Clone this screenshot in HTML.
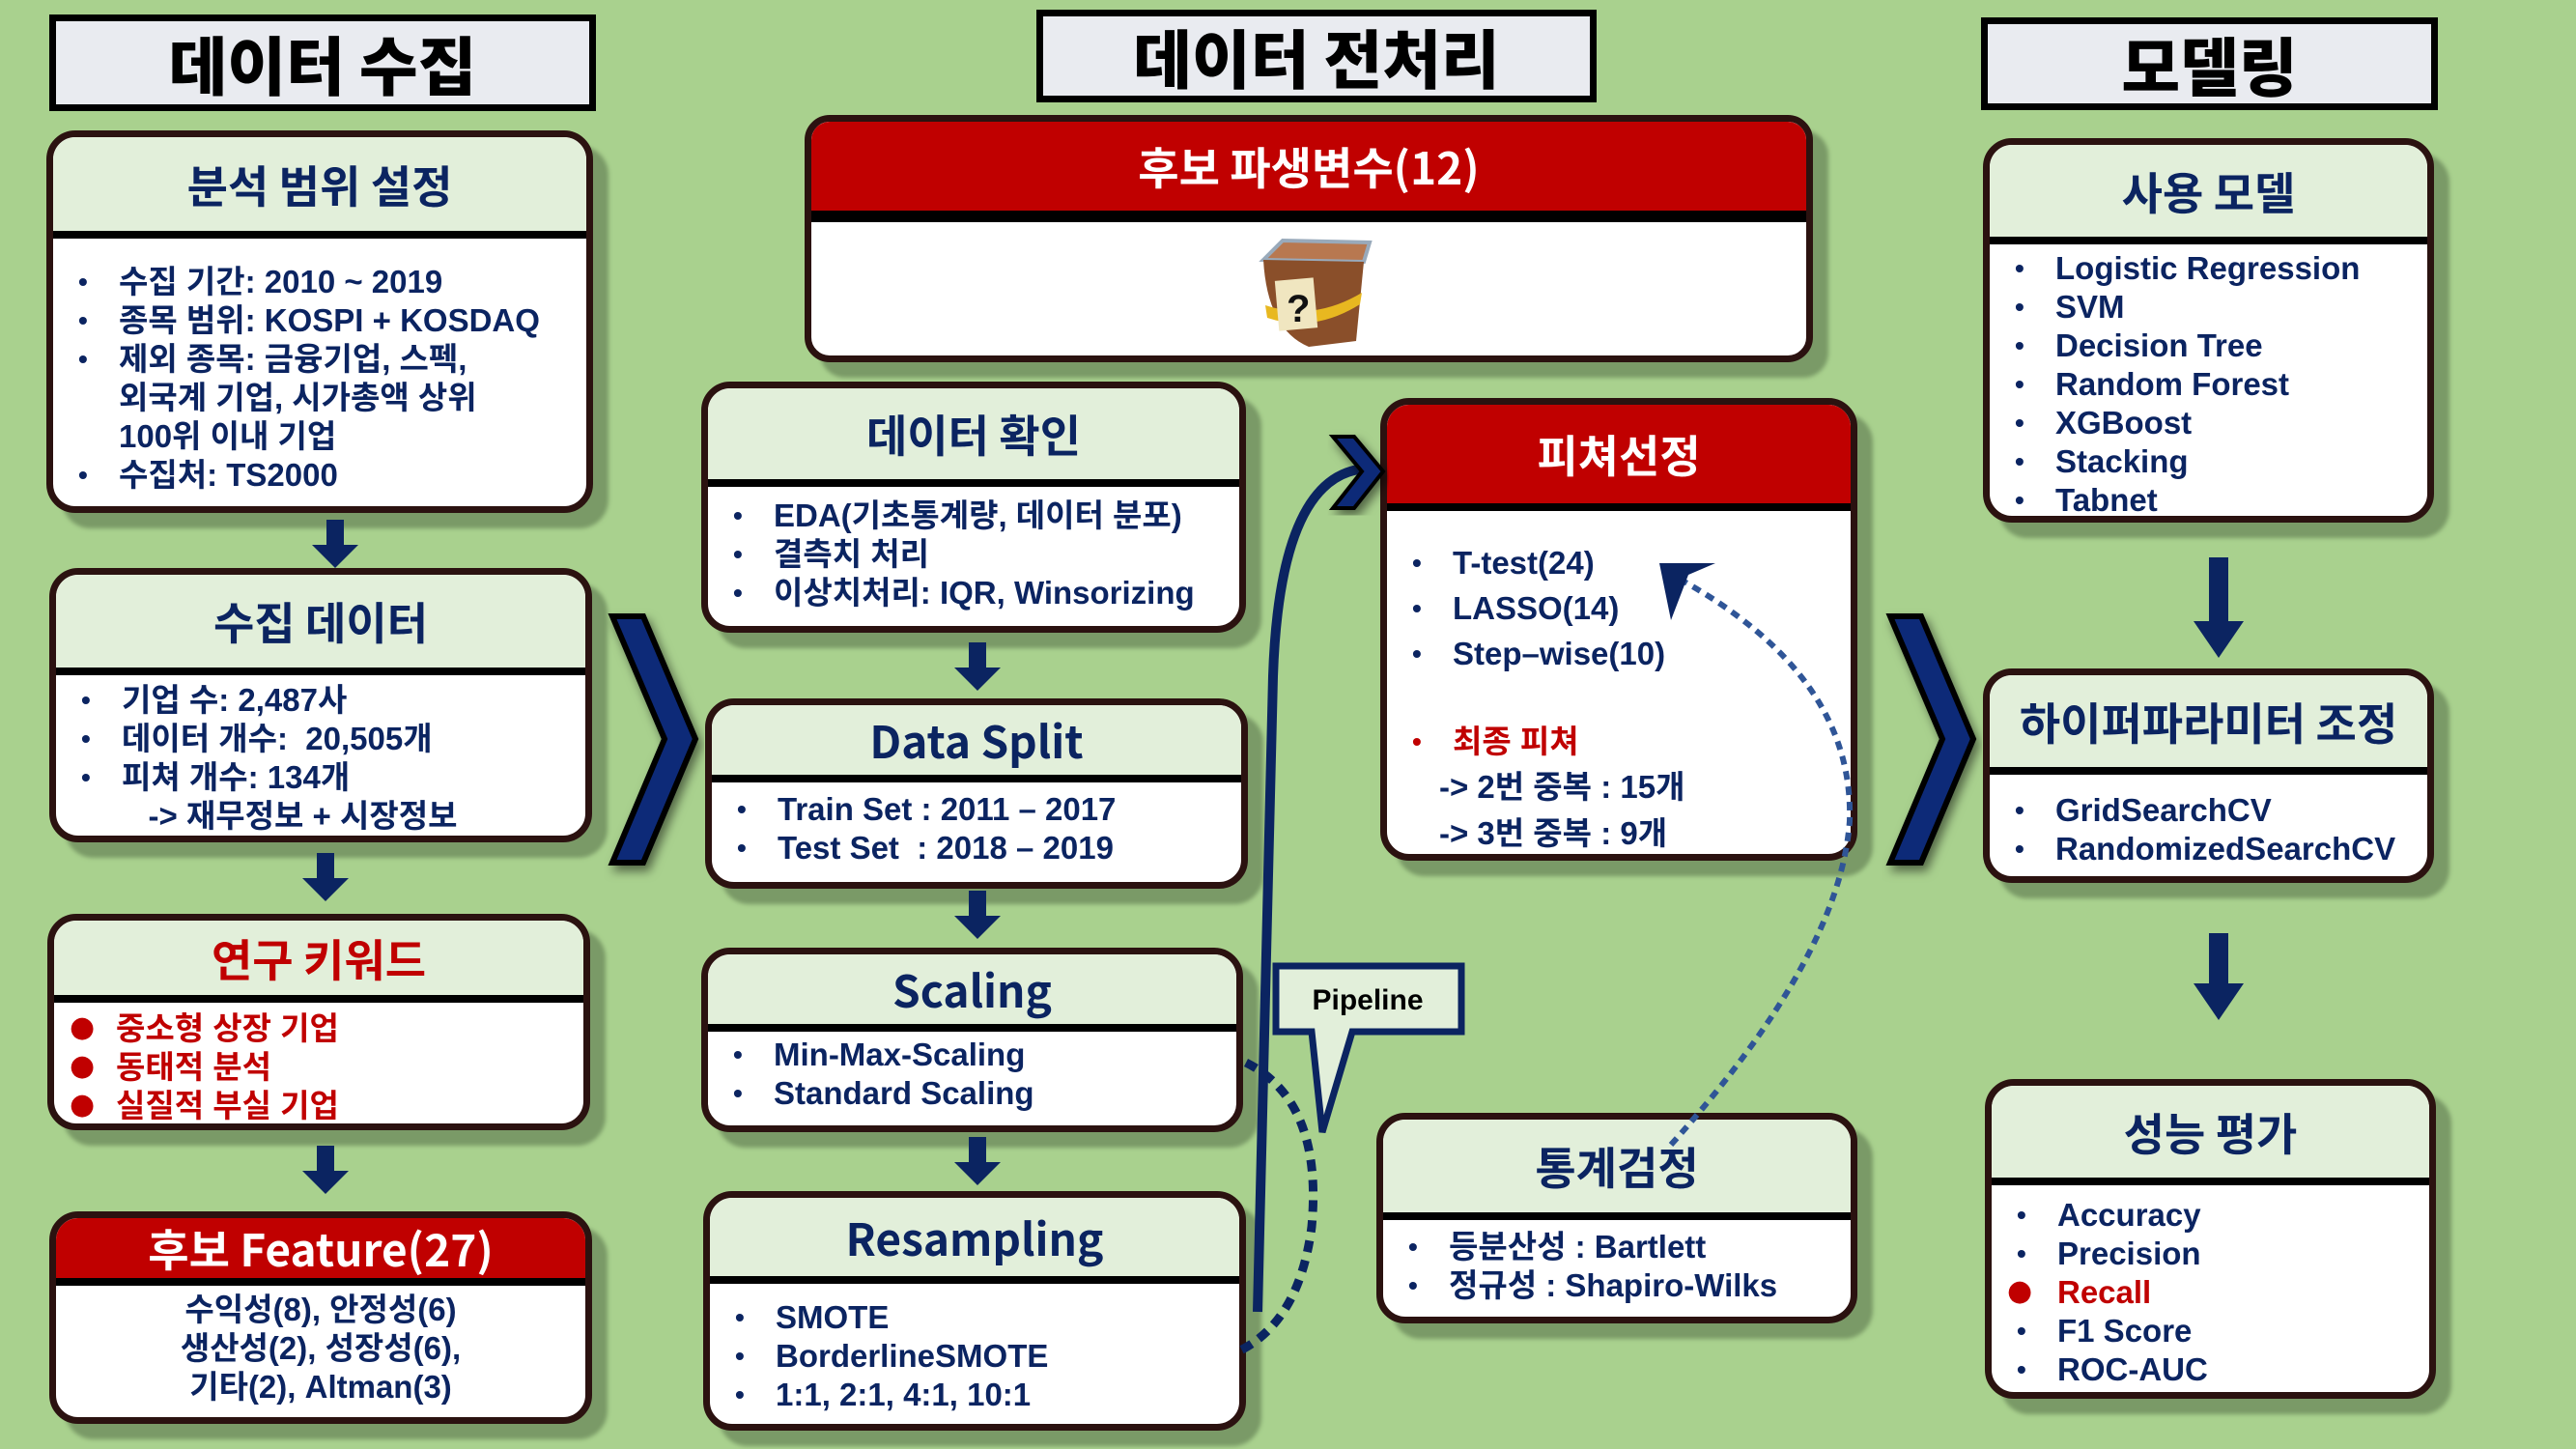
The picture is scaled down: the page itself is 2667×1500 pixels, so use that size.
<!DOCTYPE html>
<html><head><meta charset="utf-8">
<style>
*{margin:0;padding:0;box-sizing:border-box}
body{width:2667px;height:1500px;background:#a9d18e;position:relative;overflow:hidden;font-family:"Liberation Sans","Noto Sans CJK KR",sans-serif;font-weight:bold;color:#0b2461}
.hd{position:absolute;background:#e9ebf0;border:7px solid #000;display:flex;align-items:center;justify-content:center;font-size:66px;color:#000;font-family:"Noto Sans CJK KR",sans-serif;font-weight:900}
.card{position:absolute;background:#fff;border:7px solid #2b1210;border-radius:30px;box-shadow:16px 16px 4px #7a9a67;overflow:hidden}
.card .t{background:#e2efda;border-bottom:8px solid #000;display:flex;align-items:center;justify-content:center;font-size:46px;font-family:"Noto Sans CJK KR",sans-serif;font-weight:bold;color:#0b2461}
.card .t.red{background:#c00000;color:#fff}
.card ul{list-style:none;position:absolute;left:0;right:0}
.card li{position:relative;font-size:33px;line-height:40px;padding-left:68px;white-space:nowrap}
.card li:before{content:"•";position:absolute;left:26px;font-size:28px}
.card li.nb:before{content:""}
.red{color:#c00000}
.card li.dot:before{content:"●";color:#c00000;font-family:"DejaVu Sans",sans-serif;font-size:30px;left:16px;top:-1px}
</style></head><body>

<div class="hd" style="left:51px;top:15px;width:566px;height:100px">데이터 수집</div>
<div class="hd" style="left:1073px;top:10px;width:580px;height:96px">데이터 전처리</div>
<div class="hd" style="left:2051px;top:18px;width:473px;height:96px">모델링</div>

<!-- left column -->
<div class="card" style="left:48px;top:135px;width:566px;height:396px">
 <div class="t" style="height:105px">분석 범위 설정</div>
 <ul style="top:130px"><li>수집 기간: 2010 ~ 2019</li><li>종목 범위: KOSPI + KOSDAQ</li><li>제외 종목: 금융기업, 스펙,</li><li class="nb">외국계 기업, 시가총액 상위</li><li class="nb">100위 이내 기업</li><li>수집처: TS2000</li></ul>
</div>
<div class="card" style="left:51px;top:588px;width:562px;height:284px">
 <div class="t" style="height:104px">수집 데이터</div>
 <ul style="top:110px"><li>기업 수: 2,487사</li><li>데이터 개수:&nbsp; 20,505개</li><li>피쳐 개수: 134개</li><li class="nb">&nbsp;&nbsp;&nbsp;-&gt; 재무정보 + 시장정보</li></ul>
</div>
<div class="card" style="left:49px;top:946px;width:562px;height:224px">
 <div class="t" style="height:85px;color:#c00000">연구 키워드</div>
 <ul style="top:92px" class="red"><li class="dot" style="color:#c00000;padding-left:64px">중소형 상장 기업</li><li class="dot" style="color:#c00000;padding-left:64px">동태적 분석</li><li class="dot" style="color:#c00000;padding-left:64px">실질적 부실 기업</li></ul>
</div>
<div class="card" style="left:51px;top:1254px;width:562px;height:220px">
 <div class="t red" style="height:70px">후보 Feature(27)</div>
 <div style="text-align:center;font-size:33px;line-height:40px;margin-top:5px">수익성(8), 안정성(6)<br>생산성(2), 성장성(6),<br>기타(2), Altman(3)</div>
</div>

<!-- middle -->
<div class="card" style="left:833px;top:119px;width:1044px;height:256px;border-radius:26px">
 <div class="t red" style="height:104px;border-bottom-width:12px">후보 파생변수(12)</div>
 <svg style="position:absolute;left:460px;top:115px" width="125" height="125" viewBox="0 0 125 125">
  <path d="M8 28 L28 8 L118 10 L112 30 Z" fill="#b87850" stroke="#9ab" stroke-width="4"/>
  <path d="M8 28 L112 30 L104 112 L55 118 Q12 100 8 28Z" fill="#8a4f2a"/>
  <path d="M10 75 Q60 92 110 62 L108 74 Q60 104 12 88Z" fill="#e8b820"/>
  <rect x="22" y="48" width="40" height="52" fill="#f0e6c0" transform="rotate(-5 42 74)"/>
  <text x="32" y="92" font-size="40" font-family="Liberation Sans" font-weight="bold" fill="#111">?</text>
 </svg>
</div>
<div class="card" style="left:726px;top:395px;width:564px;height:260px">
 <div class="t" style="height:102px">데이터 확인</div>
 <ul style="top:112px"><li>EDA(기초통계량, 데이터 분포)</li><li>결측치 처리</li><li>이상치처리: IQR, Winsorizing</li></ul>
</div>
<div class="card" style="left:730px;top:723px;width:562px;height:197px">
 <div class="t" style="height:80px">Data Split</div>
 <ul style="top:88px"><li>Train Set : 2011 – 2017</li><li>Test Set &nbsp;: 2018 – 2019</li></ul>
</div>
<div class="card" style="left:726px;top:981px;width:561px;height:191px">
 <div class="t" style="height:80px">Scaling</div>
 <ul style="top:84px"><li>Min-Max-Scaling</li><li>Standard Scaling</li></ul>
</div>
<div class="card" style="left:728px;top:1233px;width:562px;height:248px">
 <div class="t" style="height:89px">Resampling</div>
 <ul style="top:104px"><li>SMOTE</li><li>BorderlineSMOTE</li><li>1:1, 2:1, 4:1, 10:1</li></ul>
</div>

<div class="card" style="left:1429px;top:412px;width:494px;height:479px">
 <div class="t red" style="height:110px">피쳐선정</div>
 <ul style="top:140px"><li style="line-height:47px">T-test(24)</li><li style="line-height:47px">LASSO(14)</li><li style="line-height:47px">Step–wise(10)</li>
 <li style="line-height:47px;margin-top:44px;color:#c00000">최종 피쳐</li>
 <li class="nb" style="line-height:48px;padding-left:54px">-&gt; 2번 중복 : 15개</li><li class="nb" style="line-height:48px;padding-left:54px">-&gt; 3번 중복 : 9개</li></ul>
</div>
<div class="card" style="left:1425px;top:1152px;width:498px;height:218px">
 <div class="t" style="height:104px">통계검정</div>
 <ul style="top:112px"><li>등분산성 : Bartlett</li><li>정규성 : Shapiro-Wilks</li></ul>
</div>

<!-- right -->
<div class="card" style="left:2053px;top:143px;width:467px;height:398px">
 <div class="t" style="height:103px">사용 모델</div>
 <ul style="top:108px"><li>Logistic Regression</li><li>SVM</li><li>Decision Tree</li><li>Random Forest</li><li>XGBoost</li><li>Stacking</li><li>Tabnet</li></ul>
</div>
<div class="card" style="left:2053px;top:692px;width:467px;height:222px">
 <div class="t" style="height:103px">하이퍼파라미터 조정</div>
 <ul style="top:120px"><li>GridSearchCV</li><li>RandomizedSearchCV</li></ul>
</div>
<div class="card" style="left:2055px;top:1117px;width:467px;height:331px">
 <div class="t" style="height:103px">성능 평가</div>
 <ul style="top:114px"><li>Accuracy</li><li>Precision</li><li class="dot" style="color:#c00000">Recall</li><li>F1 Score</li><li>ROC-AUC</li></ul>
</div>

<!-- overlay -->
<svg style="position:absolute;left:0;top:0" width="2667" height="1500" viewBox="0 0 2667 1500">
 <defs><filter id="sh"><feDropShadow dx="4" dy="6" stdDeviation="5" flood-color="#000" flood-opacity="0.5"/></filter></defs>
 <g fill="#0b2461">
  <g transform="translate(347,538)"><rect x="-9" y="0" width="18" height="28"/><polygon points="-24,26 24,26 0,50"/></g>
  <g transform="translate(337,883)"><rect x="-9" y="0" width="18" height="28"/><polygon points="-24,26 24,26 0,50"/></g>
  <g transform="translate(337,1186)"><rect x="-9" y="0" width="18" height="28"/><polygon points="-24,26 24,26 0,50"/></g>
  <g transform="translate(1012,665)"><rect x="-9" y="0" width="18" height="28"/><polygon points="-24,26 24,26 0,50"/></g>
  <g transform="translate(1012,922)"><rect x="-9" y="0" width="18" height="28"/><polygon points="-24,26 24,26 0,50"/></g>
  <g transform="translate(1012,1177)"><rect x="-9" y="0" width="18" height="28"/><polygon points="-24,26 24,26 0,50"/></g>
  <g transform="translate(2297,577)"><rect x="-10" y="0" width="20" height="70"/><polygon points="-26,66 26,66 0,104"/></g>
  <g transform="translate(2297,966)"><rect x="-10" y="0" width="20" height="56"/><polygon points="-26,52 26,52 0,90"/></g>
 </g>
 <polygon filter="url(#sh)" points="634,638 666,638 720,765 666,893 634,893 688,765" fill="#102a78" stroke="#000" stroke-width="6"/>
 <polygon filter="url(#sh)" points="1957,638 1989,638 2043,765 1989,893 1957,893 2011,765" fill="#102a78" stroke="#000" stroke-width="6"/>
 <path d="M1290,1100 Q1370,1140 1358,1270 Q1345,1370 1280,1400" fill="none" stroke="#0b2461" stroke-width="9" stroke-dasharray="12,9"/>
 <path d="M1302,1358 L1318,700 Q1325,490 1415,485" fill="none" stroke="#0b2461" stroke-width="10"/>
 <polygon filter="url(#sh)" points="1380,452 1402,452 1432,488 1402,526 1380,526 1410,488" fill="#102a78" stroke="#000" stroke-width="4"/>
 <path d="M1321,1000 L1513,1000 L1513,1068 L1400,1068 L1369,1172 L1358,1068 L1321,1068 Z" fill="#e2efda" stroke="#0b2461" stroke-width="7"/>
 <text x="1416" y="1045" font-size="30" font-family="Liberation Sans" font-weight="bold" fill="#000" text-anchor="middle">Pipeline</text>
 <path d="M1730,1185 Q1905,990 1915,850 Q1920,700 1740,600" fill="none" stroke="#2f5597" stroke-width="6" stroke-dasharray="9,7"/>
 <polygon points="1718,583 1776,583 1748,595 1730,642" fill="#0b2461"/>
</svg>
</body></html>
